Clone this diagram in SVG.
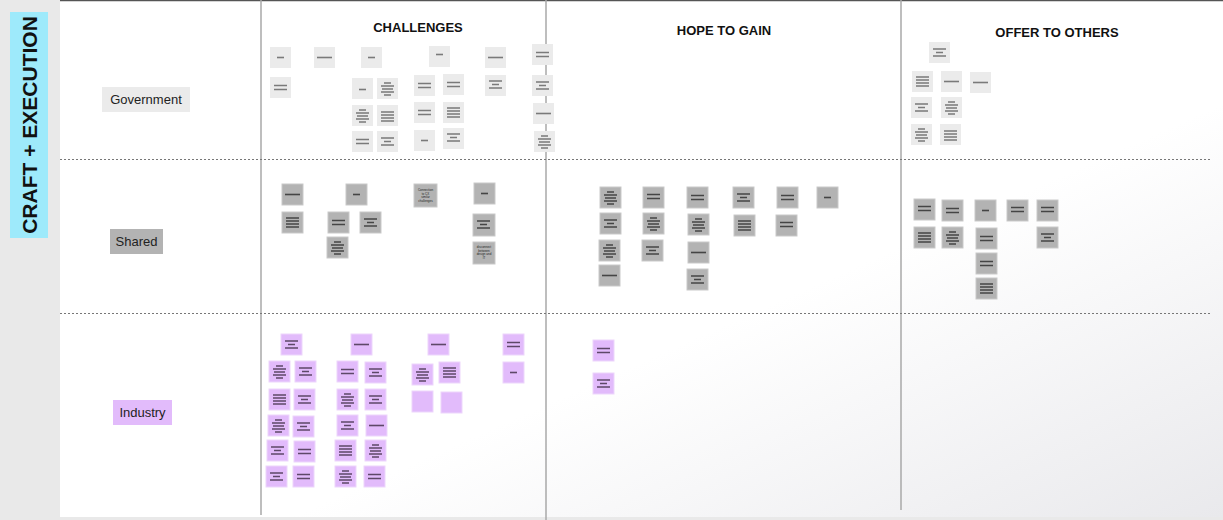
<svg xmlns="http://www.w3.org/2000/svg" xmlns:xlink="http://www.w3.org/1999/xlink" width="1223" height="520" viewBox="0 0 1223 520">
<style>
.g{fill:#ebebeb}.s{fill:#b3b3b3;stroke:#c9c9c9;stroke-width:1}.p{fill:#e2bbfb;stroke:#edd6fc;stroke-width:1}
.gl{color:#7a7a7a}.sl{color:#454545}.pl{color:#5e4868}
.h{font-family:"Liberation Sans",Arial,sans-serif;font-weight:bold;font-size:13px;fill:#111;text-anchor:middle}
.r{font-family:"Liberation Sans",Arial,sans-serif;font-size:13px;fill:#222;text-anchor:middle}
.t{font-family:"Liberation Sans",Arial,sans-serif;font-size:3px;fill:#222;text-anchor:middle}
.div{stroke:#a8a8a8;stroke-width:1.5}
.dot{stroke:#777;stroke-width:1.2;stroke-dasharray:2 2}
</style>
<defs>
<linearGradient id="bg" x1="0" y1="0" x2="1" y2="1"><stop offset="0.6" stop-color="#fff"/><stop offset="1" stop-color="#e9e9ec"/></linearGradient>
<symbol id="l1" overflow="visible"><path d="M7 10.5h7" stroke="currentColor" stroke-width="1.6"/></symbol>
<symbol id="lw" overflow="visible"><path d="M3 10.5h15" stroke="currentColor" stroke-width="1.6"/></symbol>
<symbol id="l2" overflow="visible"><path d="M4 8.5h13M4 12.5h13" stroke="currentColor" stroke-width="1.6"/></symbol>
<symbol id="l3" overflow="visible"><path d="M4 7h13M7 10.5h7M4 14h13" stroke="currentColor" stroke-width="1.6"/></symbol>
<symbol id="l4" overflow="visible"><path d="M4 6h13M4 9h13M4 12h13M4 15h13" stroke="currentColor" stroke-width="1.5"/></symbol>
<symbol id="l5" overflow="visible"><path d="M7 5h7M4 8h13M5 11h11M4 14h13M7 17h7" stroke="currentColor" stroke-width="1.5"/></symbol>
</defs>
<rect width="1223" height="520" fill="#e9e9e9"/>
<rect x="60" y="0" width="1163" height="517" fill="url(#bg)"/>
<line x1="60" y1="0.5" x2="1223" y2="0.5" stroke="#555" stroke-width="1.5"/>
<g id="section-label">
<rect x="10" y="12" width="38" height="226" fill="#9eeafb"/>
<text x="37" y="125" transform="rotate(-90 37 125)" class="h" style="font-size:21px">CRAFT + EXECUTION</text>
</g>
<g id="grid">
<line class="div" x1="261" y1="0" x2="261" y2="515"/>
<line class="div" x1="546" y1="0" x2="546" y2="520"/>
<line class="div" x1="901" y1="0" x2="901" y2="510"/>
<line class="dot" x1="60" y1="159.5" x2="1212" y2="159.5"/>
<line class="dot" x1="60" y1="313.5" x2="1212" y2="313.5"/>
</g>
<g id="headers">
<text class="h" x="418" y="32">CHALLENGES</text>
<text class="h" x="724" y="35">HOPE TO GAIN</text>
<text class="h" x="1057" y="37">OFFER TO OTHERS</text>
</g>
<g id="row-government"><rect x="102" y="87" width="88" height="25" fill="#ebebeb"/><text class="r" x="146" y="104">Government</text></g>
<g id="row-shared"><rect x="110" y="229" width="53" height="25" fill="#b3b3b3"/><text class="r" x="136.5" y="246">Shared</text></g>
<g id="row-industry"><rect x="113" y="400" width="59" height="25" fill="#e2bbfb"/><text class="r" x="142.5" y="417">Industry</text></g>

<g id="gov-challenges">
<rect class="g" x="270" y="47" width="21" height="21"/><use class="gl" href="#l1" x="270" y="47"/>
<rect class="g" x="314" y="47" width="21" height="21"/><use class="gl" href="#lw" x="314" y="47"/>
<rect class="g" x="361" y="47" width="21" height="21"/><use class="gl" href="#l1" x="361" y="47"/>
<rect class="g" x="429" y="46" width="21" height="21"/><use class="gl" href="#l1" x="429" y="44"/>
<rect class="g" x="485" y="47" width="21" height="21"/><use class="gl" href="#lw" x="485" y="47"/>
<rect class="g" x="532" y="44" width="21" height="21"/><use class="gl" href="#l2" x="532" y="44"/>
<rect class="g" x="270" y="77" width="21" height="21"/><use class="gl" href="#l2" x="270" y="77"/>
<rect class="g" x="352" y="78" width="21" height="21"/><use class="gl" href="#l1" x="352" y="79"/>
<rect class="g" x="377" y="78" width="21" height="21"/><use class="gl" href="#l5" x="377" y="78"/>
<rect class="g" x="414" y="75" width="21" height="21"/><use class="gl" href="#l2" x="414" y="75"/>
<rect class="g" x="443" y="74" width="21" height="21"/><use class="gl" href="#l2" x="443" y="74"/>
<rect class="g" x="485" y="75" width="21" height="21"/><use class="gl" href="#l3" x="485" y="74"/>
<rect class="g" x="532" y="75" width="21" height="21"/><use class="gl" href="#l3" x="532" y="75"/>
<rect class="g" x="352" y="105" width="21" height="21"/><use class="gl" href="#l5" x="352" y="105"/>
<rect class="g" x="377" y="105" width="21" height="21"/><use class="gl" href="#l4" x="377" y="106"/>
<rect class="g" x="414" y="102" width="21" height="21"/><use class="gl" href="#l2" x="414" y="102"/>
<rect class="g" x="443" y="102" width="21" height="21"/><use class="gl" href="#l4" x="443" y="102"/>
<rect class="g" x="533" y="103" width="21" height="21"/><use class="gl" href="#lw" x="533" y="103"/>
<rect class="g" x="352" y="131" width="21" height="21"/><use class="gl" href="#l2" x="352" y="131"/>
<rect class="g" x="377" y="131" width="21" height="21"/><use class="gl" href="#l3" x="377" y="131"/>
<rect class="g" x="414" y="130" width="21" height="21"/><use class="gl" href="#l1" x="414" y="130"/>
<rect class="g" x="443" y="128" width="21" height="21"/><use class="gl" href="#l3" x="443" y="127"/>
<rect class="g" x="534" y="131" width="21" height="21"/><use class="gl" href="#l5" x="534" y="131"/>
</g>

<g id="gov-offer">
<rect class="g" x="929" y="42" width="21" height="21"/><use class="gl" href="#l3" x="929" y="42"/>
<rect class="g" x="912" y="71" width="21" height="21"/><use class="gl" href="#l4" x="912" y="71"/>
<rect class="g" x="941" y="71" width="21" height="21"/><use class="gl" href="#lw" x="941" y="71"/>
<rect class="g" x="970" y="72" width="21" height="21"/><use class="gl" href="#lw" x="970" y="72"/>
<rect class="g" x="911" y="97" width="21" height="21"/><use class="gl" href="#l3" x="911" y="97"/>
<rect class="g" x="941" y="97" width="21" height="21"/><use class="gl" href="#l5" x="941" y="97"/>
<rect class="g" x="911" y="124" width="21" height="21"/><use class="gl" href="#l5" x="911" y="124"/>
<rect class="g" x="940" y="124" width="21" height="21"/><use class="gl" href="#l4" x="940" y="125"/>
</g>

<g id="shared-challenges">
<rect class="s" x="282" y="184" width="21" height="21"/><use class="sl" href="#lw" x="282" y="184"/>
<rect class="s" x="346" y="184" width="21" height="21"/><use class="sl" href="#l1" x="346" y="184"/>
<rect class="s" x="414" y="184" width="23" height="23"/><text class="t" x="425.5" y="191"><tspan x="425.5">Connection</tspan><tspan x="425.5" dy="3.5">to CX</tspan><tspan x="425.5" dy="3.5">similar</tspan><tspan x="425.5" dy="3.5">challenges</tspan></text>
<rect class="s" x="474" y="183" width="21" height="21"/><use class="sl" href="#l1" x="474" y="183"/>
<rect class="s" x="282" y="212" width="21" height="21"/><use class="sl" href="#l4" x="282" y="212"/>
<rect class="s" x="328" y="212" width="21" height="21"/><use class="sl" href="#l2" x="328" y="212"/>
<rect class="s" x="360" y="212" width="21" height="21"/><use class="sl" href="#l3" x="360" y="212"/>
<rect class="s" x="473" y="214" width="22" height="22"/><use class="sl" href="#l3" x="473" y="214"/>
<rect class="s" x="327" y="237" width="21" height="21"/><use class="sl" href="#l5" x="327" y="237"/>
<rect class="s" x="473" y="242" width="22" height="22"/><text class="t" x="484" y="248"><tspan x="484">disconnect</tspan><tspan x="484" dy="3.5">between</tspan><tspan x="484" dy="3.5">design and</tspan><tspan x="484" dy="3.5">IT</tspan></text>
</g>

<g id="shared-hope">
<rect class="s" x="600" y="187" width="21" height="21"/><use class="sl" href="#l5" x="600" y="187"/>
<rect class="s" x="643" y="187" width="21" height="21"/><use class="sl" href="#l2" x="643" y="186"/>
<rect class="s" x="687" y="187" width="21" height="21"/><use class="sl" href="#l2" x="687" y="187"/>
<rect class="s" x="733" y="187" width="21" height="21"/><use class="sl" href="#l3" x="733" y="187"/>
<rect class="s" x="777" y="187" width="21" height="21"/><use class="sl" href="#l2" x="777" y="187"/>
<rect class="s" x="817" y="187" width="21" height="21"/><use class="sl" href="#l1" x="817" y="187"/>
<rect class="s" x="600" y="213" width="21" height="21"/><use class="sl" href="#l3" x="600" y="213"/>
<rect class="s" x="643" y="213" width="21" height="21"/><use class="sl" href="#l5" x="643" y="213"/>
<rect class="s" x="688" y="214" width="21" height="21"/><use class="sl" href="#l5" x="688" y="214"/>
<rect class="s" x="734" y="215" width="21" height="21"/><use class="sl" href="#l4" x="734" y="215"/>
<rect class="s" x="776" y="215" width="21" height="21"/><use class="sl" href="#l2" x="776" y="214"/>
<rect class="s" x="599" y="240" width="21" height="21"/><use class="sl" href="#l5" x="599" y="240"/>
<rect class="s" x="642" y="240" width="21" height="21"/><use class="sl" href="#l3" x="642" y="240"/>
<rect class="s" x="688" y="242" width="21" height="21"/><use class="sl" href="#lw" x="688" y="242"/>
<rect class="s" x="599" y="265" width="21" height="21"/><use class="sl" href="#lw" x="599" y="265"/>
<rect class="s" x="687" y="269" width="21" height="21"/><use class="sl" href="#l3" x="687" y="269"/>
</g>

<g id="shared-offer">
<rect class="s" x="914" y="199" width="21" height="21"/><use class="sl" href="#l2" x="914" y="198"/>
<rect class="s" x="942" y="200" width="21" height="21"/><use class="sl" href="#l2" x="942" y="200"/>
<rect class="s" x="975" y="200" width="21" height="21"/><use class="sl" href="#l1" x="975" y="200"/>
<rect class="s" x="1007" y="200" width="21" height="21"/><use class="sl" href="#l2" x="1007" y="199"/>
<rect class="s" x="1037" y="200" width="21" height="21"/><use class="sl" href="#l2" x="1037" y="199"/>
<rect class="s" x="914" y="227" width="21" height="21"/><use class="sl" href="#l4" x="914" y="227"/>
<rect class="s" x="942" y="227" width="21" height="21"/><use class="sl" href="#l5" x="942" y="227"/>
<rect class="s" x="976" y="228" width="21" height="21"/><use class="sl" href="#l2" x="976" y="228"/>
<rect class="s" x="1037" y="227" width="21" height="21"/><use class="sl" href="#l3" x="1037" y="227"/>
<rect class="s" x="976" y="253" width="21" height="21"/><use class="sl" href="#l2" x="976" y="253"/>
<rect class="s" x="976" y="278" width="21" height="21"/><use class="sl" href="#l4" x="976" y="278"/>
</g>

<g id="industry-challenges">
<rect class="p" x="281" y="334" width="21" height="21"/><use class="pl" href="#l3" x="281" y="334"/>
<rect class="p" x="351" y="334" width="21" height="21"/><use class="pl" href="#lw" x="351" y="334"/>
<rect class="p" x="428" y="334" width="21" height="21"/><use class="pl" href="#lw" x="428" y="334"/>
<rect class="p" x="503" y="334" width="21" height="21"/><use class="pl" href="#l2" x="503" y="334"/>
<rect class="p" x="269" y="361" width="21" height="21"/><use class="pl" href="#l5" x="269" y="361"/>
<rect class="p" x="295" y="361" width="21" height="21"/><use class="pl" href="#l3" x="295" y="361"/>
<rect class="p" x="337" y="361" width="21" height="21"/><use class="pl" href="#l2" x="337" y="361"/>
<rect class="p" x="365" y="362" width="21" height="21"/><use class="pl" href="#l3" x="365" y="362"/>
<rect class="p" x="412" y="364" width="21" height="21"/><use class="pl" href="#l5" x="412" y="364"/>
<rect class="p" x="439" y="362" width="21" height="21"/><use class="pl" href="#l4" x="439" y="362"/>
<rect class="p" x="503" y="362" width="21" height="21"/><use class="pl" href="#l1" x="503" y="362"/>
<rect class="p" x="269" y="389" width="21" height="21"/><use class="pl" href="#l4" x="269" y="389"/>
<rect class="p" x="294" y="389" width="21" height="21"/><use class="pl" href="#l3" x="294" y="389"/>
<rect class="p" x="337" y="389" width="21" height="21"/><use class="pl" href="#l5" x="337" y="389"/>
<rect class="p" x="365" y="389" width="21" height="21"/><use class="pl" href="#l3" x="365" y="389"/>
<rect class="p" x="412" y="391" width="21" height="21"/>
<rect class="p" x="441" y="392" width="21" height="21"/>
<rect class="p" x="268" y="415" width="21" height="21"/><use class="pl" href="#l5" x="268" y="415"/>
<rect class="p" x="293" y="416" width="21" height="21"/><use class="pl" href="#l3" x="293" y="416"/>
<rect class="p" x="337" y="415" width="21" height="21"/><use class="pl" href="#l3" x="337" y="415"/>
<rect class="p" x="366" y="415" width="21" height="21"/><use class="pl" href="#lw" x="366" y="415"/>
<rect class="p" x="267" y="440" width="21" height="21"/><use class="pl" href="#l3" x="267" y="440"/>
<rect class="p" x="294" y="441" width="21" height="21"/><use class="pl" href="#l2" x="294" y="441"/>
<rect class="p" x="335" y="440" width="21" height="21"/><use class="pl" href="#l4" x="335" y="440"/>
<rect class="p" x="365" y="440" width="21" height="21"/><use class="pl" href="#l5" x="365" y="440"/>
<rect class="p" x="266" y="466" width="21" height="21"/><use class="pl" href="#l3" x="266" y="466"/>
<rect class="p" x="293" y="466" width="21" height="21"/><use class="pl" href="#l2" x="293" y="466"/>
<rect class="p" x="335" y="466" width="21" height="21"/><use class="pl" href="#l5" x="335" y="466"/>
<rect class="p" x="364" y="466" width="21" height="21"/><use class="pl" href="#l2" x="364" y="466"/>
</g>

<g id="industry-hope">
<rect class="p" x="593" y="340" width="21" height="21"/><use class="pl" href="#l2" x="593" y="340"/>
<rect class="p" x="593" y="373" width="21" height="21"/><use class="pl" href="#l3" x="593" y="373"/>
</g>
</svg>
